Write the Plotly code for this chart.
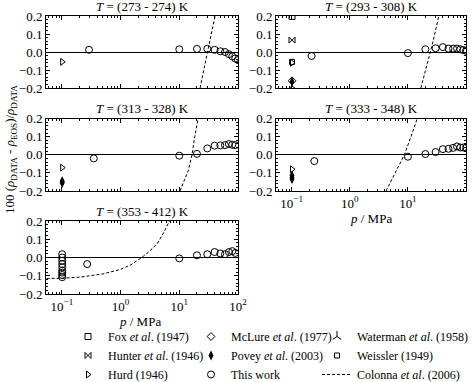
import plotly.graph_objects as go

W, H = 474, 382
P_ATM = 0.101325

titles = ["(273 - 274)", "(293 - 308)", "(313 - 328)", "(333 - 348)", "(353 - 412)"]

# x-axis ticks
x_tickvals = [0.1, 1, 10, 100]
x_ticktext = ["10<sup>−1</sup>", "10<sup>0</sup>", "10<sup>1</sup>", "10<sup>2</sup>"]
x_minorvals = [0.06, 0.07, 0.08, 0.09, 0.2, 0.3, 0.4, 0.5, 0.6, 0.7, 0.8, 0.9,
               2, 3, 4, 5, 6, 7, 8, 9, 20, 30, 40, 50, 60, 70, 80, 90]

# This work
tw_p = [
    [0.29, 10, 20, 30, 40, 50, 60, 70, 80, 90, 100],
    [0.22, 10, 20, 30, 40, 50, 60, 70, 80, 90, 100],
    [0.35, 10, 20, 30, 40, 50, 60, 70, 80, 90],
    [0.245, 10, 20, 30, 40, 50, 60, 70, 80, 90, 100],
    [P_ATM] * 9 + [0.27, 10, 20, 30, 40, 50, 60, 70, 80, 90],
]
tw_d = [
    [0.012, 0.015, 0.017, 0.018, 0.012, 0.004, 0.0, -0.012, -0.024, -0.036, -0.045],
    [-0.022, -0.006, 0.015, 0.021, 0.027, 0.019, 0.019, 0.019, 0.015, 0.011, 0.007],
    [-0.020, -0.005, 0.005, 0.035, 0.050, 0.052, 0.053, 0.059, 0.055, 0.053],
    [-0.035, -0.011, 0.004, 0.015, 0.031, 0.033, 0.038, 0.046, 0.040, 0.040, 0.038],
    [0.018, 0.0, -0.018, -0.036, -0.054, -0.072, -0.083, -0.096, -0.108,
     -0.036, -0.005, 0.012, 0.018, 0.030, 0.022, 0.018, 0.030, 0.035, 0.025],
]

# Literature data at atmospheric pressure (panel index -> deviations)
fox_d = {1: [0.198]}
mclure_d = {1: [-0.160]}
waterman_d = {1: [-0.190]}
hunter_d = {1: [0.066]}
povey_d = {1: [-0.165], 2: [-0.145, -0.150, -0.156], 3: [-0.115, -0.125, -0.135]}
weissler_d = {1: [-0.055]}
hurd_d = {0: [-0.055], 1: [-0.06], 2: [-0.071], 3: [-0.08]}

# Colonna et al. (2006) EOS deviation curves
col_p = [
    [22.6, 26.0, 30.2, 35.0, 40.9],
    [16.7, 20.3, 24.4, 29.0, 34.0],
    [10.3, 14.3, 16.5, 18.3, 21.0],
    [4.2, 6.1, 8.7, 11.3, 14.5],
    [0.055, 0.1, 0.2, 0.5, 1.0, 1.5, 2.3, 3.0, 4.2, 5.5, 6.8],
]
col_d = [
    [-0.2, -0.1, 0.0, 0.1, 0.2],
    [-0.2, -0.1, 0.0, 0.1, 0.2],
    [-0.2, -0.085, 0.0, 0.1, 0.2],
    [-0.2, -0.1, 0.0, 0.1, 0.2],
    [-0.115, -0.114, -0.108, -0.09, -0.065, -0.04, 0.0, 0.03, 0.075, 0.14, 0.2],
]

FONT = "Liberation Serif"

# panel geometry in pixels (left, right, top, bottom)
boxes = [
    (46, 238, 16, 88),
    (276, 466, 16, 88),
    (46, 238, 118.5, 191),
    (276, 466, 118.5, 191),
    (46, 238, 221, 294),
]
# x-axis title positions (pixels, centre) for the panels that show them
xtitle_pos = {3: (371, 218), 4: (140, 321)}

# legend column widths (text part) for the three legend columns
LW = [78, 81, 106]

fig = go.Figure()
shown = set()


def add(name, i, p, d, col, **kw):
    ax = "" if i == 0 else str(i + 1)
    fig.add_trace(go.Scatter(
        x=p, y=d, name=name, legendgroup=name, legendwidth=LW[col],
        showlegend=name not in shown,
        xaxis="x" + ax, yaxis="y" + ax, cliponaxis=True, **kw))
    shown.add(name)


def atm(dct, i):
    return [P_ATM] * len(dct[i])


for i in range(5):
    if i in fox_d:
        add("Fox <i>et al</i>. (1947)", i, atm(fox_d, i), fox_d[i], 0, mode="markers",
            marker=dict(symbol="square-open", size=6, color="black", line=dict(width=1)), legendrank=1)
    if i in mclure_d:
        add("McLure <i>et al</i>. (1977)", i, atm(mclure_d, i), mclure_d[i], 1, mode="markers",
            marker=dict(symbol="diamond-open", size=6, color="black", line=dict(width=1)), legendrank=2)
    if i in waterman_d:
        add("Waterman <i>et al</i>. (1958)", i, atm(waterman_d, i), waterman_d[i], 2, mode="markers",
            marker=dict(symbol="y-up", size=7, color="black", line=dict(width=1, color="black")),
            legendrank=3)
    if i in hunter_d:
        add("Hunter <i>et al</i>. (1946)", i, atm(hunter_d, i), hunter_d[i], 0, mode="markers",
            marker=dict(symbol="bowtie-open", size=6, color="black", line=dict(width=1)), legendrank=4)
    if i in povey_d:
        add("Povey <i>et al</i>. (2003)", i, atm(povey_d, i), povey_d[i], 1, mode="markers",
            marker=dict(symbol="diamond-tall", size=7, color="black", line=dict(width=0)), legendrank=5)
    if i in weissler_d:
        add("Weissler (1949)", i, atm(weissler_d, i), weissler_d[i], 2, mode="markers",
            marker=dict(symbol="square-open", size=5, color="black", line=dict(width=1)), legendrank=6)
    if i in hurd_d:
        add("Hurd (1946)", i, atm(hurd_d, i), hurd_d[i], 0, mode="markers",
            marker=dict(symbol="triangle-right-open", size=6, color="black", line=dict(width=1)), legendrank=7)
    add("This work", i, tw_p[i], tw_d[i], 1, mode="markers",
        marker=dict(symbol="circle-open", size=7, color="black", line=dict(width=1)), legendrank=8)
    add("Colonna <i>et al</i>. (2006)", i, col_p[i], col_d[i], 2, mode="lines",
        line=dict(color="black", width=1, dash="3px,2px"), legendrank=9)

layout = dict(
    width=W, height=H,
    margin=dict(l=0, r=0, t=0, b=0, autoexpand=False),
    paper_bgcolor="white", plot_bgcolor="white",
    font=dict(family=FONT, size=13, color="black"),
    annotations=[],
    legend=dict(orientation="h", x=68 / W, y=1 - 322 / H, xref="container", yref="container",
                xanchor="left", yanchor="top",
                entrywidthmode="pixels", font=dict(size=12),
                itemwidth=30, tracegroupgap=0, bgcolor="rgba(0,0,0,0)"),
)

for i, (l, r, t, b) in enumerate(boxes):
    ax = "" if i == 0 else str(i + 1)
    show_x = i in (3, 4)
    xa = dict(
        type="log", range=[-1.27, 2.0], domain=[l / W, r / W], anchor="y" + ax,
        showline=True, linecolor="black", linewidth=1, mirror="ticks",
        ticks="inside", ticklen=4, tickcolor="black",
        tickmode="array", tickvals=x_tickvals, ticktext=x_ticktext,
        showticklabels=show_x, showgrid=False, zeroline=False, automargin=False,
        minor=dict(ticks="inside", ticklen=2, tickcolor="black", showgrid=False,
                   tickmode="array", tickvals=x_minorvals),
        tickfont=dict(size=13),
    )
    ya = dict(
        range=[-0.2, 0.2], domain=[1 - b / H, 1 - t / H], anchor="x" + ax,
        showline=True, linecolor="black", linewidth=1, mirror="ticks",
        ticks="inside", ticklen=4, tickcolor="black", dtick=0.1, tickformat=".1f",
        showgrid=False, zeroline=True, zerolinecolor="black", zerolinewidth=1,
        automargin=False,
        minor=dict(ticks="inside", ticklen=2, tickcolor="black", dtick=0.02, showgrid=False),
        tickfont=dict(size=13),
    )
    layout["xaxis" + ax] = xa
    layout["yaxis" + ax] = ya
    layout["annotations"].append(dict(
        text="<i>T</i> = " + titles[i] + " K", x=(l + r) / 2 / W, y=1 - t / H,
        xref="paper", yref="paper", xanchor="center", yanchor="bottom",
        showarrow=False, yshift=0, font=dict(size=13)))
    if show_x:
        px, py = xtitle_pos[i]
        layout["annotations"].append(dict(
            text="<i>p</i> / MPa", x=px / W, y=1 - py / H, xref="paper", yref="paper",
            xanchor="center", yanchor="middle", showarrow=False, font=dict(size=13)))

layout["annotations"].append(dict(
    text="100 (<i>ρ</i><sub>DATA</sub> - <i>ρ</i><sub>EOS</sub>)/<i>ρ</i><sub>DATA</sub>",
    x=10 / W, y=1 - 150 / H, xref="paper", yref="paper", textangle=-90,
    xanchor="center", yanchor="middle", showarrow=False, font=dict(size=13)))

fig.update_layout(**layout)
fig.write_html(
    "out.html",
    config={"displayModeBar": False},
    post_script="document.body.style.margin='0px';document.body.style.overflow='hidden';",
)
